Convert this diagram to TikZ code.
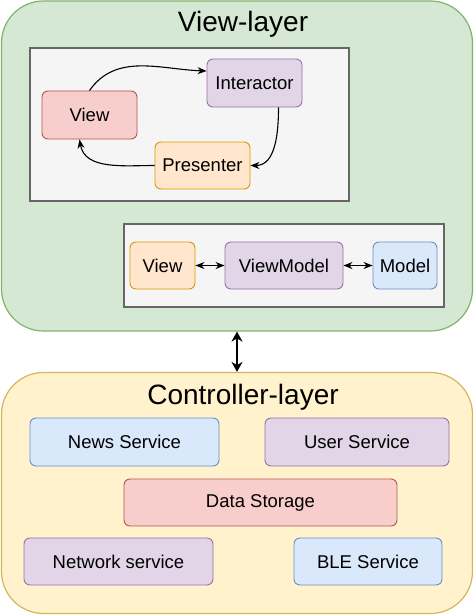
\documentclass[tikz,border=0pt]{standalone}
\usepackage{fontspec}
\setmainfont{Liberation Sans}
\usetikzlibrary{arrows.meta}
\definecolor{redF}{HTML}{F8CECC}\definecolor{redD}{HTML}{B85450}
\definecolor{purF}{HTML}{E1D5E7}\definecolor{purD}{HTML}{9673A6}
\definecolor{oraF}{HTML}{FFE6CC}\definecolor{oraD}{HTML}{D79B00}
\definecolor{bluF}{HTML}{DAE8FC}\definecolor{bluD}{HTML}{6C8EBF}
\definecolor{grnF}{HTML}{D5E8D4}\definecolor{grnD}{HTML}{82B366}
\definecolor{yelF}{HTML}{FFF2CC}\definecolor{yelD}{HTML}{D6B656}
\definecolor{gryF}{HTML}{F5F5F5}\definecolor{gryD}{HTML}{666666}
\tikzset{
  layer/.style={draw, line width=1.2pt, rounded corners=42pt, inner sep=0pt},
  container/.style={draw=gryD, fill=gryF, line width=1.1pt, inner sep=0pt},
  box/.style={draw, line width=0.9pt, rounded corners=6pt, inner sep=0pt,
    font=\fontsize{18.5}{22}\selectfont},
  title/.style={font=\fontsize{28}{33}\selectfont, inner sep=0pt},
  arr/.style={line width=1.1pt, -{Stealth[length=9pt,width=7pt]}},
  darr/.style={line width=1.1pt, {Stealth[length=9pt,width=7pt]}-{Stealth[length=9pt,width=7pt]}},
  bigarr/.style={line width=2.6pt, {Stealth[length=10pt,width=11pt]}-{Stealth[length=10pt,width=11pt]}},
}
\begin{document}
\begin{tikzpicture}[x=1pt,y=-1pt]
\useasboundingbox (0,0) rectangle (474,615);
% layers
\node[layer, draw=grnD, fill=grnF, minimum width=471pt, minimum height=330pt] (vl) at (237,166) {};
\node[layer, draw=yelD, fill=yelF, minimum width=471pt, minimum height=241pt] (cl) at (237,493) {};
\node[title] (vlt) at (243,24) {View-layer};
\node[title] (clt) at (243,397) {Controller-layer};
% containers
\node[container, minimum width=319pt, minimum height=153pt] (c1) at (189.5,124.5) {};
\node[container, minimum width=320pt, minimum height=83pt] (c2) at (284,265.5) {};
% VIP
\node[box, draw=redD, fill=redF, minimum width=95pt, minimum height=48pt] (v1) at (89.5,115) {View};
\node[box, draw=purD, fill=purF, minimum width=95pt, minimum height=48pt] (int) at (254.5,83) {Interactor};
\node[box, draw=oraD, fill=oraF, minimum width=95pt, minimum height=47pt] (pre) at (202.5,165.5) {Presenter};
\draw[arr] (v1.north) to[out=55,in=178] ([yshift=12pt]int.west);
\draw[arr] ([xshift=24pt]int.south) to[out=-90,in=0] (pre.east);
\draw[arr] (pre.west) to[out=180,in=-80] ([xshift=-10pt]v1.south);
% MVVM
\node[box, draw=oraD, fill=oraF, minimum width=65pt, minimum height=47pt] (v2) at (162.5,265.5) {View};
\node[box, draw=purD, fill=purF, minimum width=118pt, minimum height=47pt] (vm) at (284,265.5) {ViewModel};
\node[box, draw=bluD, fill=bluF, minimum width=64pt, minimum height=47pt] (mo) at (405,265.5) {Model};
\draw[darr] (v2.east) -- (vm.west);
\draw[darr] (vm.east) -- (mo.west);
% link
\draw[bigarr] (vl.south -| 237,0) -- (cl.north -| 237,0);
% services
\node[box, draw=bluD, fill=bluF, minimum width=189pt, minimum height=48pt] (news) at (124.5,442) {News Service};
\node[box, draw=purD, fill=purF, minimum width=184pt, minimum height=48pt] (user) at (357,442) {User Service};
\node[box, draw=redD, fill=redF, minimum width=273pt, minimum height=47pt] (data) at (260.5,502.5) {Data Storage};
\node[box, draw=purD, fill=purF, minimum width=189pt, minimum height=47pt] (net) at (118.5,561.5) {Network service};
\node[box, draw=bluD, fill=bluF, minimum width=148pt, minimum height=47pt] (ble) at (368,561.5) {\raisebox{-4pt}{BLE Service}};
\end{tikzpicture}
\end{document}
